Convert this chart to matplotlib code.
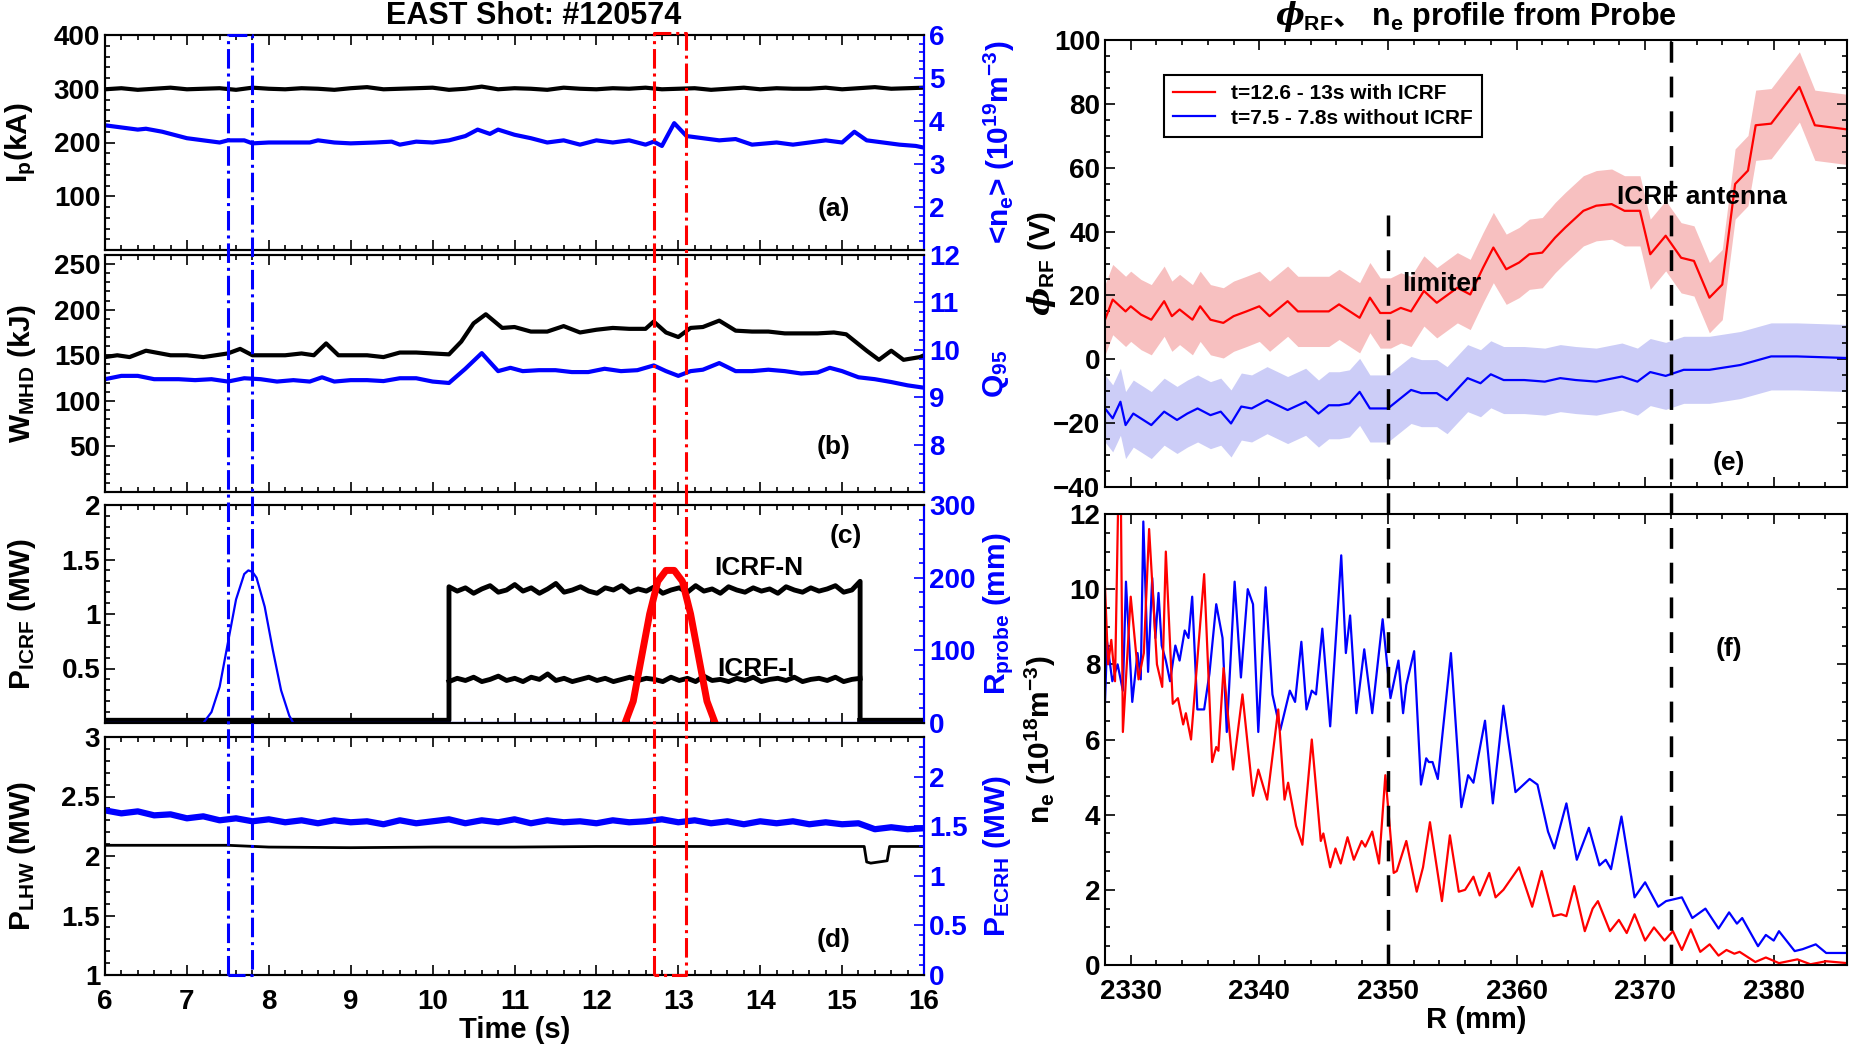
import numpy as np
import matplotlib
matplotlib.use('Agg')
import matplotlib.pyplot as plt
import matplotlib.lines as mlines
import matplotlib.transforms as mtransforms
from matplotlib.ticker import MultipleLocator, FormatStrFormatter
from matplotlib.offsetbox import TextArea, HPacker, AnchoredOffsetbox

plt.rcParams['font.family'] = ['Liberation Sans', 'Noto Sans CJK SC', 'DejaVu Sans']
plt.rcParams['font.weight'] = 'bold'
plt.rcParams['axes.labelweight'] = 'bold'
plt.rcParams['mathtext.fontset'] = 'custom'
plt.rcParams['mathtext.rm'] = 'Liberation Sans:bold'
plt.rcParams['mathtext.it'] = 'DejaVu Serif:italic'
plt.rcParams['mathtext.bf'] = 'Liberation Sans:bold'
plt.rcParams['mathtext.default'] = 'rm'

# ---------------- data: time traces (left column) ----------------
ip_kA = [299, 301, 298, 300, 302, 299, 300, 301, 298, 302, 300, 299, 301, 300, 298, 301,
         303, 299, 300, 301, 302, 298, 300, 304, 299, 301, 300, 298, 302, 300, 299, 301,
         300, 302, 299, 300, 301, 298, 300, 302, 299, 301, 300, 300, 302, 299, 301, 303,
         300, 301, 302]

t_ne = [6.0, 6.2, 6.4, 6.5, 6.7, 7.0, 7.2, 7.4, 7.5, 7.7, 7.8, 8.0, 8.5, 8.6, 8.8, 9.0, 9.3,
        9.5, 9.6, 9.8, 10.0, 10.2, 10.4, 10.55, 10.7, 10.8, 11.0, 11.2, 11.4, 11.6, 11.8,
        12.0, 12.2, 12.4, 12.6, 12.7, 12.8, 12.95, 13.1, 13.3, 13.5, 13.7, 13.9, 14.2, 14.4,
        14.6, 14.8, 15.0, 15.15, 15.3, 15.5, 15.7, 15.9, 16.0]
ne_avg = [3.9, 3.85, 3.8, 3.82, 3.75, 3.6, 3.55, 3.5, 3.55, 3.55, 3.48, 3.5, 3.5, 3.55, 3.5,
          3.48, 3.5, 3.52, 3.45, 3.52, 3.5, 3.55, 3.65, 3.8, 3.7, 3.8, 3.68, 3.6, 3.5, 3.55,
          3.45, 3.55, 3.5, 3.55, 3.45, 3.52, 3.42, 3.95, 3.65, 3.6, 3.55, 3.58, 3.45, 3.5,
          3.45, 3.5, 3.55, 3.5, 3.75, 3.55, 3.5, 3.45, 3.42, 3.38]

t_w = [6.0, 6.15, 6.3, 6.5, 6.8, 7.0, 7.2, 7.5, 7.65, 7.8, 8.0, 8.2, 8.4, 8.55, 8.7, 8.85,
       9.0, 9.2, 9.4, 9.6, 9.8, 10.0, 10.2, 10.35, 10.5, 10.65, 10.85, 11.0, 11.2, 11.4, 11.6,
       11.8, 12.0, 12.2, 12.4, 12.6, 12.7, 12.85, 13.0, 13.15, 13.3, 13.5, 13.7, 13.9, 14.1,
       14.3, 14.5, 14.7, 14.9, 15.05, 15.3, 15.45, 15.6, 15.75, 15.95, 16.0]
w_mhd = [148, 150, 148, 155, 150, 150, 148, 152, 157, 150, 150, 150, 152, 150, 163, 150,
         150, 150, 148, 153, 153, 152, 151, 165, 185, 195, 180, 181, 176, 176, 182, 175,
         178, 180, 179, 179, 187, 175, 170, 180, 181, 188, 177, 176, 176, 174, 174, 174,
         175, 173, 155, 145, 155, 145, 148, 150]

t_q = [6.0, 6.2, 6.4, 6.6, 6.9, 7.1, 7.3, 7.5, 7.7, 7.9, 8.1, 8.3, 8.5, 8.65, 8.8, 9.0, 9.2,
       9.4, 9.6, 9.8, 10.0, 10.2, 10.4, 10.6, 10.8, 10.95, 11.1, 11.3, 11.5, 11.7, 11.9,
       12.1, 12.3, 12.5, 12.7, 12.85, 13.0, 13.15, 13.3, 13.5, 13.7, 13.9, 14.1, 14.3, 14.5,
       14.7, 14.85, 15.0, 15.2, 15.4, 15.6, 15.8, 16.0]
q95 = [9.38, 9.45, 9.45, 9.38, 9.38, 9.36, 9.38, 9.33, 9.4, 9.38, 9.33, 9.36, 9.33, 9.42,
       9.33, 9.36, 9.36, 9.34, 9.4, 9.4, 9.33, 9.3, 9.6, 9.93, 9.55, 9.62, 9.55, 9.57, 9.57,
       9.53, 9.53, 9.6, 9.55, 9.57, 9.67, 9.55, 9.45, 9.55, 9.58, 9.72, 9.55, 9.55, 9.58,
       9.55, 9.5, 9.52, 9.62, 9.55, 9.42, 9.38, 9.32, 9.25, 9.2]

icrf_on, icrf_off = 10.2, 15.22
icrf_base = 0.025
icrf_n = [1.25, 1.21, 1.24, 1.19, 1.23, 1.26, 1.2, 1.22, 1.27, 1.21, 1.24, 1.19, 1.23, 1.28,
          1.2, 1.22, 1.25, 1.21, 1.19, 1.24, 1.22, 1.26, 1.2, 1.23, 1.21, 1.25, 1.19, 1.22,
          1.24, 1.2, 1.26, 1.21, 1.23, 1.19, 1.25, 1.22, 1.2, 1.24, 1.21, 1.23, 1.19, 1.25,
          1.22, 1.2, 1.24, 1.21, 1.23, 1.26, 1.2, 1.22, 1.3]
icrf_i = [0.38, 0.41, 0.39, 0.42, 0.38, 0.4, 0.43, 0.39, 0.41, 0.38, 0.42, 0.4, 0.45, 0.39,
          0.41, 0.38, 0.4, 0.42, 0.39, 0.41, 0.38, 0.4, 0.42, 0.39, 0.41, 0.4, 0.38, 0.42,
          0.39, 0.41, 0.38, 0.43, 0.39, 0.4, 0.38, 0.41, 0.39, 0.42, 0.38, 0.4, 0.41, 0.39,
          0.42, 0.38, 0.4, 0.41, 0.39, 0.42, 0.38, 0.4, 0.41]

t_probe_blue = [6.0, 7.2, 7.3, 7.4, 7.5, 7.6, 7.7, 7.75, 7.8, 7.85, 7.95, 8.05, 8.15, 8.25, 8.3, 16.0]
r_probe_blue = [0, 0, 15, 50, 110, 170, 205, 210, 208, 200, 160, 100, 45, 10, 0, 0]
t_probe_red = [12.35, 12.45, 12.55, 12.65, 12.75, 12.85, 12.95, 13.05, 13.15, 13.25, 13.35, 13.45]
r_probe_red = [0, 30, 90, 150, 195, 210, 210, 195, 150, 90, 30, 0]

t_lhw = [6.0, 7.5, 8.0, 9.0, 10.0, 11.0, 12.0, 13.0, 14.0, 15.0, 15.27, 15.3, 15.35, 15.55, 15.58, 16.0]
p_lhw = [2.09, 2.09, 2.075, 2.07, 2.075, 2.075, 2.08, 2.08, 2.08, 2.08, 2.08, 1.95, 1.94, 1.96, 2.08, 2.08]

p_ecrh = [1.66, 1.63, 1.65, 1.61, 1.62, 1.58, 1.60, 1.56, 1.58, 1.55, 1.57, 1.54, 1.56, 1.53,
          1.56, 1.54, 1.55, 1.52, 1.56, 1.53, 1.55, 1.57, 1.53, 1.56, 1.54, 1.57, 1.53, 1.56,
          1.54, 1.55, 1.53, 1.56, 1.54, 1.55, 1.57, 1.54, 1.56, 1.53, 1.55, 1.52, 1.55, 1.53,
          1.55, 1.52, 1.54, 1.52, 1.53, 1.47, 1.49, 1.47, 1.48]

win_blue = (7.5, 7.8)
win_red = (12.7, 13.1)

# ---------------- data: probe profiles (right column) ----------------
r_phi_red = [2328.0, 2328.6, 2329.6, 2330.0, 2330.8, 2331.6, 2332.6, 2333.2, 2333.8, 2334.8,
             2335.4, 2336.2, 2337.2, 2338.0, 2339.0, 2340.0, 2340.8, 2342.2, 2343.0, 2344.0,
             2345.4, 2346.2, 2347.8, 2348.6, 2349.4, 2350.2, 2351.0, 2351.8, 2352.8, 2353.8,
             2355.4, 2356.4, 2357.4, 2358.2, 2359.2, 2360.2, 2361.0, 2362.0, 2363.0, 2363.8,
             2365.2, 2366.2, 2367.4, 2368.4, 2369.6, 2370.4, 2371.6, 2372.8, 2373.8, 2375.0,
             2376.0, 2377.0, 2378.0, 2378.6, 2379.8, 2382.0, 2383.2, 2385.7]
phi_red = [12.4, 18.7, 15.0, 16.6, 14.0, 12.4, 18.2, 13.5, 15.6, 12.4, 16.6, 12.4, 11.4, 13.5,
           15.0, 16.6, 13.5, 18.2, 15.0, 15.0, 15.0, 17.2, 13.0, 19.3, 14.5, 14.5, 16.1, 15.0,
           21.4, 17.7, 22.4, 20.3, 28.7, 35.0, 28.2, 30.3, 32.9, 33.4, 38.1, 41.3, 46.5, 48.1,
           48.6, 46.5, 46.5, 32.9, 38.7, 31.8, 30.8, 19.3, 23.4, 54.9, 59.1, 73.3, 73.8, 85.3,
           73.3, 72.0]
phi_red_err = 11.0

r_phi_blue = [2328.0, 2328.6, 2329.2, 2329.6, 2330.2, 2331.6, 2332.6, 2333.6, 2334.4, 2335.2,
              2336.2, 2337.0, 2337.8, 2338.6, 2339.4, 2340.6, 2342.2, 2343.6, 2344.6, 2345.4,
              2346.2, 2347.0, 2347.8, 2348.6, 2350.0, 2351.8, 2352.6, 2353.8, 2354.6, 2356.2,
              2357.2, 2358.0, 2359.0, 2360.6, 2362.2, 2363.4, 2364.6, 2366.2, 2368.2, 2369.4,
              2370.4, 2371.6, 2373.0, 2375.0, 2377.4, 2379.8, 2381.8, 2385.7]
phi_blue = [-15.4, -18.5, -13.3, -20.6, -17.0, -20.6, -16.4, -19.0, -17.0, -15.4, -17.5, -16.4,
            -20.1, -14.8, -15.4, -12.8, -15.9, -13.3, -17.0, -14.4, -14.4, -13.8, -10.2, -15.4,
            -15.4, -9.6, -10.6, -10.6, -12.8, -5.9, -7.5, -4.7, -6.5, -6.5, -7.0, -5.9, -6.5,
            -7.0, -5.4, -7.0, -4.0, -5.2, -3.3, -3.3, -1.8, 0.9, 0.9, 0.4]
phi_blue_err = 10.5

r_ne_blue = [2328.0, 2328.16, 2328.57, 2328.98, 2329.39, 2329.63, 2330.12, 2330.53, 2330.78,
             2330.98, 2331.35, 2331.67, 2331.92, 2332.16, 2332.41, 2332.73, 2333.06, 2333.47,
             2333.8, 2334.2, 2334.49, 2334.78, 2335.18, 2335.71, 2336.12, 2336.65, 2337.14,
             2337.47, 2338.08, 2338.57, 2339.1, 2339.51, 2339.92, 2340.49, 2341.02, 2341.63,
             2342.37, 2342.78, 2343.27, 2343.67, 2344.08, 2344.41, 2344.9, 2345.51, 2346.37,
             2346.73, 2347.06, 2347.55, 2348.16, 2348.78, 2349.59, 2350.2, 2350.82, 2351.18,
             2351.43, 2352.04, 2352.57, 2352.98, 2353.18, 2353.47, 2353.88, 2354.9, 2355.71,
             2356.24, 2356.65, 2357.55, 2358.16, 2358.98, 2359.92, 2361.02, 2361.63, 2362.45,
             2362.94, 2363.88, 2364.69, 2365.63, 2366.45, 2366.94, 2367.35, 2368.16, 2369.18,
             2370.0, 2371.02, 2371.63, 2372.86, 2373.67, 2374.69, 2375.71, 2376.53, 2377.14,
             2377.55, 2378.78, 2379.39, 2380.0, 2380.41, 2381.63, 2382.24, 2383.27, 2384.08,
             2385.71]
ne_blue = [7.0, 8.6, 7.55, 8.0, 7.3, 10.2, 7.0, 8.3, 7.6, 11.8, 7.8, 10.3, 8.7, 9.9, 8.5, 8.1,
           7.55, 8.5, 8.1, 8.9, 8.7, 9.8, 6.8, 6.8, 7.75, 9.6, 8.7, 6.2, 10.2, 7.65, 10.0, 9.6,
           6.2, 10.05, 7.2, 6.25, 7.3, 7.0, 8.6, 6.8, 7.3, 7.2, 8.95, 6.35, 10.9, 8.3, 9.3, 6.7,
           8.4, 6.7, 9.2, 7.1, 8.1, 6.7, 7.45, 8.35, 4.8, 5.5, 5.4, 5.4, 4.95, 8.3, 4.2, 5.05,
           4.85, 6.5, 4.3, 6.9, 4.6, 4.95, 4.8, 3.55, 3.1, 4.3, 2.8, 3.65, 2.65, 2.8, 2.55, 3.95,
           1.8, 2.2, 1.55, 1.7, 1.8, 1.25, 1.5, 0.97, 1.4, 1.1, 1.25, 0.5, 0.8, 0.65, 0.9, 0.37,
           0.42, 0.55, 0.32, 0.32]

r_ne_red = [2328.0, 2328.24, 2328.49, 2328.78, 2329.06, 2329.22, 2329.39, 2330.0, 2330.61,
            2331.02, 2331.43, 2332.04, 2332.45, 2332.73, 2333.27, 2333.67, 2334.08, 2334.29,
            2334.69, 2335.71, 2336.33, 2336.65, 2336.82, 2337.22, 2337.96, 2338.69, 2339.51,
            2339.92, 2340.61, 2341.47, 2341.96, 2342.24, 2342.86, 2343.35, 2344.08, 2344.78,
            2344.98, 2345.51, 2345.92, 2346.33, 2346.86, 2347.35, 2347.96, 2348.24, 2348.78,
            2349.31, 2349.8, 2350.45, 2350.69, 2351.43, 2352.24, 2352.73, 2353.27, 2354.2,
            2354.82, 2355.51, 2356.0, 2356.65, 2357.14, 2357.88, 2358.37, 2358.98, 2360.2,
            2361.22, 2361.96, 2362.86, 2363.47, 2363.88, 2364.49, 2365.31, 2365.92, 2366.33,
            2367.27, 2367.96, 2368.57, 2369.18, 2370.0, 2370.69, 2371.51, 2372.16, 2372.86,
            2373.55, 2374.29, 2375.02, 2375.71, 2376.33, 2376.94, 2377.35, 2378.57, 2379.39,
            2380.41, 2381.84, 2382.86, 2384.08, 2385.71]
ne_red = [10.05, 8.0, 8.65, 7.55, 13.0, 13.0, 6.2, 9.8, 7.6, 8.3, 11.6, 8.0, 7.4, 11.0, 6.95,
          7.1, 6.4, 6.7, 6.0, 10.4, 5.4, 5.8, 5.7, 7.9, 5.2, 7.2, 4.5, 5.2, 4.4, 6.8, 4.4, 4.85,
          3.7, 3.2, 6.0, 3.3, 3.5, 2.6, 3.1, 2.7, 3.4, 2.8, 3.3, 3.15, 3.55, 2.7, 5.05, 2.45,
          2.5, 3.3, 1.95, 2.6, 3.8, 1.7, 3.45, 1.95, 2.0, 2.35, 1.85, 2.45, 1.8, 2.0, 2.6, 1.55,
          2.5, 1.3, 1.35, 1.3, 2.1, 0.9, 1.5, 1.7, 0.9, 1.2, 0.85, 1.35, 0.65, 1.0, 0.65, 0.9,
          0.4, 0.95, 0.35, 0.55, 0.25, 0.4, 0.3, 0.35, 0.08, 0.2, 0.05, 0.15, 0.02, 0.1, 0.05]

r_limiter = 2350.0
r_antenna = 2372.0
limiter_top = 48

# ---------------- layout ----------------
W, H = 1851, 1052
fig = plt.figure(figsize=(W / 100, H / 100), dpi=100)


def box(l, t, r, b):
    return [l / W, 1 - b / H, (r - l) / W, (b - t) / H]


ax_a = fig.add_axes(box(105, 35, 924, 250))
ax_b = fig.add_axes(box(105, 255, 924, 492))
ax_c = fig.add_axes(box(105, 505, 924, 723))
ax_d = fig.add_axes(box(105, 737, 924, 975))
ax_e = fig.add_axes(box(1105, 40, 1847, 487))
ax_f = fig.add_axes(box(1105, 514, 1847, 965))

TICK = 20
LABEL = 21.5
NOTE = 19


def style_left(ax, ylim, yticks, minor, label):
    ax.set_xlim(6, 16)
    ax.set_ylim(*ylim)
    ax.set_yticks(yticks)
    ax.yaxis.set_major_formatter(FormatStrFormatter('%g'))
    ax.yaxis.set_minor_locator(MultipleLocator(minor))
    ax.xaxis.set_major_locator(MultipleLocator(1))
    ax.xaxis.set_minor_locator(MultipleLocator(0.2))
    ax.tick_params(which='both', direction='in', top=True, right=False, labelsize=TICK, width=1.2)
    ax.tick_params(which='major', length=7)
    ax.tick_params(which='minor', length=3.5)
    ax.tick_params(axis='x', pad=10)
    for s in ax.spines.values():
        s.set_linewidth(1.5)
    ax.set_ylabel(label, fontsize=LABEL)
    ax.yaxis.set_label_coords(-0.082, 0.5)
    tw = ax.twinx()
    for s in tw.spines.values():
        s.set_linewidth(1.5)
    tw.spines['right'].set_color('blue')
    return tw


def style_twin(tw, ylim, yticks, minor, label):
    tw.set_ylim(*ylim)
    tw.set_yticks(yticks)
    tw.yaxis.set_major_formatter(FormatStrFormatter('%g'))
    tw.yaxis.set_minor_locator(MultipleLocator(minor))
    tw.tick_params(which='both', direction='in', colors='blue', labelsize=TICK, width=1.2)
    tw.tick_params(which='major', length=7)
    tw.tick_params(which='minor', length=3.5)
    tw.set_ylabel(label, fontsize=LABEL, color='blue')
    tw.yaxis.set_label_coords(1.07, 0.5)


# (a)
tw_a = style_left(ax_a, (0, 400), [100, 200, 300, 400], 20, 'I$_p$(kA)')
ax_a.plot(np.linspace(6, 16, len(ip_kA)), ip_kA, color='black', lw=3)
style_twin(tw_a, (1, 6), [2, 3, 4, 5, 6], 0.2, '<n$_e$> (10$^{19}$m$^{-3}$)')
tw_a.plot(t_ne, ne_avg, color='blue', lw=3)
ax_a.text(14.9, 76, '(a)', fontsize=NOTE, ha='center', va='center')

# (b)
tw_b = style_left(ax_b, (0, 260), [50, 100, 150, 200, 250], 10, 'W$_{MHD}$ (kJ)')
ax_b.plot(t_w, w_mhd, color='black', lw=3)
style_twin(tw_b, (7, 12), [8, 9, 10, 11, 12], 0.2, 'Q$_{95}$')
tw_b.plot(t_q, q95, color='blue', lw=3)
ax_b.text(14.9, 49, '(b)', fontsize=NOTE, ha='center', va='center')

# (c)
tw_c = style_left(ax_c, (0, 2), [0.5, 1, 1.5, 2], 0.1, 'P$_{ICRF}$ (MW)')
t_on = list(np.linspace(icrf_on, icrf_off, len(icrf_n)))
ax_c.plot([6, icrf_on] + t_on + [icrf_off, 16],
          [icrf_base, icrf_base] + icrf_n + [icrf_base, icrf_base], color='black', lw=3.5)
ax_c.plot(t_on, icrf_i, color='black', lw=3.5)
style_twin(tw_c, (0, 300), [0, 100, 200, 300], 20, 'R$_{probe}$ (mm)')
tw_c.plot(t_probe_blue, r_probe_blue, color='blue', lw=1.6)
tw_c.plot(t_probe_red, r_probe_red, color='red', lw=5)
ax_c.text(15.05, 1.72, '(c)', fontsize=NOTE, ha='center', va='center')
ax_c.text(13.98, 1.42, 'ICRF-N', fontsize=NOTE, ha='center', va='center')
ax_c.text(13.95, 0.5, 'ICRF-I', fontsize=NOTE, ha='center', va='center')

# (d)
tw_d = style_left(ax_d, (1, 3), [1, 1.5, 2, 2.5, 3], 0.1, 'P$_{LHW}$ (MW)')
ax_d.plot(t_lhw, p_lhw, color='black', lw=2)
style_twin(tw_d, (0, 2.4), [0, 0.5, 1, 1.5, 2], 0.1, 'P$_{ECRH}$ (MW)')
tw_d.plot(np.linspace(6, 16, len(p_ecrh)), p_ecrh, color='blue', lw=4.5)
ax_d.text(14.9, 1.29, '(d)', fontsize=NOTE, ha='center', va='center')
ax_d.set_xlabel('Time (s)', fontsize=21, labelpad=1)

for ax in (ax_a, ax_b, ax_c):
    ax.tick_params(labelbottom=False)

# dash-dot time windows crossing all left panels
y_bot = 1 - 975 / H
y_top = 1 - 35 / H
trans_l = mtransforms.blended_transform_factory(ax_a.transData, fig.transFigure)
for (t0, t1), col, top in ((win_blue, 'blue', y_top), (win_red, 'red', y_top + 0.002)):
    fig.add_artist(mlines.Line2D([t0, t0, t1, t1, t0], [y_bot, top, top, y_bot, y_bot],
                                 transform=trans_l, color=col, lw=2.2, ls='-.'))

fig.text(534 / W, 1 - 16 / H, 'EAST Shot: #120574', fontsize=22, ha='center', va='center')

# ---------------- right column ----------------
for ax in (ax_e, ax_f):
    ax.set_xlim(2328, 2385.7)
    ax.xaxis.set_major_locator(MultipleLocator(10))
    ax.xaxis.set_minor_locator(MultipleLocator(2))
    ax.tick_params(which='both', direction='in', top=True, right=True, labelsize=TICK, width=1.2)
    ax.tick_params(which='major', length=7)
    ax.tick_params(which='minor', length=3.5)
    ax.tick_params(axis='x', pad=10)
    for s in ax.spines.values():
        s.set_linewidth(1.5)

ax_e.set_ylim(-40, 100)
ax_e.yaxis.set_major_locator(MultipleLocator(20))
ax_e.yaxis.set_minor_locator(MultipleLocator(5))
ax_e.tick_params(labelbottom=False)
red_phi = np.array(phi_red)
blue_phi = np.array(phi_blue)
ax_e.fill_between(r_phi_red, red_phi - phi_red_err, red_phi + phi_red_err,
                  color='#f7c0c0', lw=0)
ax_e.fill_between(r_phi_blue, blue_phi - phi_blue_err, blue_phi + phi_blue_err,
                  color='#cccdf7', lw=0)
l1, = ax_e.plot(r_phi_red, phi_red, color='red', lw=1.6)
l2, = ax_e.plot(r_phi_blue, phi_blue, color='blue', lw=1.6)
leg = ax_e.legend([l1, l2], ['t=12.6 - 13s with ICRF', 't=7.5 - 7.8s without ICRF'],
                  loc='upper left', bbox_to_anchor=(0.065, 0.945), fontsize=15,
                  fancybox=False, edgecolor='black', framealpha=1, handlelength=2.0,
                  borderpad=0.45, labelspacing=0.25)
leg.get_frame().set_linewidth(1.5)
ax_e.set_ylabel(r'$\mathit{\phi}_{RF}$ (V)', fontsize=LABEL)
ax_e.yaxis.set_label_coords(-0.063, 0.5)
ax_e.text(2351.1, 23.6, 'limiter', fontsize=NOTE, ha='left', va='center')
ax_e.text(2367.8, 50.8, 'ICRF antenna', fontsize=NOTE, ha='left', va='center')
ax_e.text(2376.5, -32.5, '(e)', fontsize=NOTE, ha='center', va='center')

ax_f.set_ylim(0, 12)
ax_f.yaxis.set_major_locator(MultipleLocator(2))
ax_f.yaxis.set_minor_locator(MultipleLocator(0.5))
ax_f.plot(r_ne_blue, ne_blue, color='blue', lw=1.6)
ax_f.plot(r_ne_red, ne_red, color='red', lw=1.6)
ax_f.set_ylabel('n$_e$ (10$^{18}$m$^{-3}$)', fontsize=LABEL)
ax_f.yaxis.set_label_coords(-0.063, 0.5)
ax_f.set_xlabel('R (mm)', fontsize=21, labelpad=1)
ax_f.text(2376.5, 8.4, '(f)', fontsize=NOTE, ha='center', va='center')

# dashed markers of limiter and antenna crossing both right panels
e_box = box(1105, 40, 1847, 487)
y_lim_top = e_box[1] + e_box[3] * (limiter_top + 40) / 140
y_e_top = e_box[1] + e_box[3]
y_f_bot = 1 - 965 / H
trans_r = mtransforms.blended_transform_factory(ax_e.transData, fig.transFigure)
for r, top in ((r_limiter, y_lim_top), (r_antenna, y_e_top)):
    fig.add_artist(mlines.Line2D([r, r], [y_f_bot, top], transform=trans_r,
                                 color='black', lw=2.5, ls=(0, (6, 4))))

# right title: the ideographic comma needs the CJK font, so it is its own piece
title_font = dict(fontsize=22, fontweight='bold')
title_parts = [TextArea(r'$\mathit{\phi}_{RF}$', textprops=title_font),
               TextArea('、', textprops=dict(title_font, family='Noto Sans CJK SC')),
               TextArea(' n$_e$ profile from Probe', textprops=title_font)]
title_box = AnchoredOffsetbox(loc='center',
                              child=HPacker(children=title_parts, align='baseline', pad=0, sep=0),
                              frameon=False, bbox_to_anchor=(1476 / W, 1 - 16 / H),
                              bbox_transform=fig.transFigure, borderpad=0, pad=0)
fig.add_artist(title_box)

fig.savefig('out.png', dpi=100)
